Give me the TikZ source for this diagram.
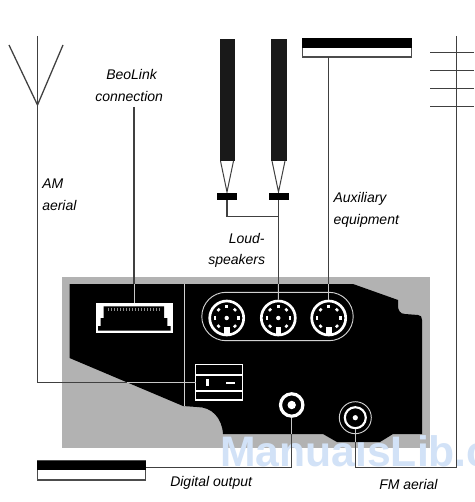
\documentclass[tikz,border=0pt]{standalone}
\usepackage{fontspec}
\setmainfont{Liberation Sans}
\tikzset{
    wire/.style={draw=black!75, line width=0.95pt},
    panelwire/.style={draw=black!22, line width=0.75pt},
    label/.style={inner sep=0pt, anchor=base west, font=\itshape\fontsize{10.5}{12}\selectfont, text=black},
    ringline/.style={draw=white, line width=2pt},
    thinline/.style={draw=black!18, line width=0.7pt},
    pin/.style={draw=white, line width=2.3pt},
    socketbox/.style={draw=black!70, line width=0.8pt, fill=white}
}
\definecolor{panelgray}{RGB}{178,178,178}
\definecolor{markblue}{RGB}{210,226,247}
\begin{document}
\begin{tikzpicture}[x={(0.75pt,0pt)}, y={(0pt,-0.75pt)}]
    \useasboundingbox (0, 0) rectangle (474, 502);
    \fill[white] (0, 0) rectangle (474, 502);

    % rear panel
    \fill[panelgray] (62, 277) rectangle (430, 448);
    \node[inner sep=0pt, anchor=base west, font=\bfseries\fontsize{32}{36}\selectfont, text=markblue] (mark) at (220, 466) {ManualsLib.c};
    \fill[black] (69.5, 284) -- (353, 284) -- (398, 300) -- (398, 306) .. controls (398, 310) and (400, 314) .. (405, 314)
        -- (418, 315) .. controls (421, 315) and (422, 317) .. (422, 320) -- (422, 434) -- (393, 434) -- (380, 442) -- (337, 442) -- (323, 434)
        -- (223, 434) .. controls (222, 418) and (212, 407) .. (197, 407) -- (183, 406) -- (69.5, 358) -- cycle;
    \draw[thinline] (184, 284) -- (184, 406);

    % aerial and equipment symbols
    \coordinate (amfoot) at (37.5, 105);
    \coordinate (amtop) at (37.5, 36);
    \coordinate (amcorner) at (37.5, 382.7);
    \coordinate (amedge) at (127, 382.7);
    \draw[wire] (9, 45) -- (amfoot) -- (63, 45);
    \draw[wire] (amtop) -- (amcorner) -- (amedge);
    \coordinate (fmtop) at (456.7, 36);
    \coordinate (fmcorner) at (456.7, 467.7);
    \draw[wire] (fmtop) -- (fmcorner);
    \foreach \y in {52.7, 70.7, 88.7, 106.7}
        \draw[wire] (430, \y) -- (474, \y);

    % loudspeakers
    \foreach \x/\w [count=\i] in {227/7.5, 278.5/8} {
        \fill[black!90] (\x-\w, 39) rectangle (\x+\w, 161);
        \draw[wire, line width=0.75pt] (\x-6.5, 161) -- (\x, 192) -- (\x+6.5, 161);
        \fill[black] (\x-10, 193) rectangle (\x+10, 200);
        \coordinate (foot\i) at (\x, 200);
    }
    \coordinate (footjoin) at (278.5, 216.7);
    \coordinate (foot1down) at (227, 216.7);
    \draw[wire] (foot1) -- (foot1down) -- (footjoin);

    % auxiliary box and digital box
    \draw[socketbox] (302.3, 38.5) rectangle (411.7, 57);
    \fill[black] (302.3, 38.5) rectangle (411.7, 48);
    \coordinate (auxout) at (328.7, 57);
    \draw[socketbox] (37.3, 460.7) rectangle (145.5, 480);
    \fill[black] (37.3, 460.7) rectangle (145.5, 470.3);
    \coordinate (digbox) at (145.5, 467.7);

    % link socket
    \fill[white] (95.7, 303) rectangle (172.7, 333);
    \fill[black] (103.7, 306.3) -- (164, 306.3) -- (164, 318) -- (167.3, 318) -- (167.3, 326) -- (170.7, 326) -- (170.7, 330.7)
        -- (98, 330.7) -- (98, 326) -- (100.7, 326) -- (100.7, 318) -- (103.7, 318) -- cycle;
    \foreach \x in {108, 111, ..., 160}
        \draw[black!45, line width=0.6pt] (\x, 307.5) -- (\x, 310.5);
    \coordinate (linktop) at (134, 303);
    \coordinate (linkend) at (134, 107);
    \coordinate (linkedge) at (134, 284);
    \draw[wire] (linkend) -- (linkedge);
    \draw[panelwire] (linkedge) -- (linktop);

    % din sockets
    \draw[thinline] (226, 292.3) -- (329, 292.3) arc[start angle=90, end angle=-90, x radius=24.2, y radius=-24.2] -- (226, 340.7) arc[start angle=-90, end angle=-270, x radius=24.2, y radius=-24.2] -- cycle;
    \foreach \name/\x in {left/226.7, mid/278.3, right/328.7} {
        \draw[ringline] (\x, 318) circle[radius=17];
        \fill[white] (\x-2.8, 326.5) rectangle (\x+2.8, 334);
        \foreach \a in {0, 45, 90, 135, 180, 225, 315}
            \draw[pin] ({\x+10.3*cos(\a)}, {318-10.3*sin(\a)}) -- ({\x+12.8*cos(\a)}, {318-12.8*sin(\a)});
        \coordinate (din\name) at (\x, 299.5);
    }
    \foreach \x in {226.7, 278.3}
        \fill[white] (\x, 318) circle[radius=2.2];

    \coordinate (spkedge) at (278.5, 284);
    \coordinate (auxedge) at (328.7, 284);
    \draw[wire] (foot2) -- (spkedge);
    \draw[panelwire] (spkedge) -- (dinmid);
    \draw[wire] (auxout) -- (auxedge);
    \draw[panelwire] (auxedge) -- (dinright);

    % mains style socket
    \draw[draw=white, line width=0.8pt] (195.7, 364.3) rectangle (242.7, 400);
    \draw[draw=white, line width=0.8pt] (195.7, 375) -- (242.7, 375);
    \draw[draw=white, line width=0.8pt] (195.7, 391) -- (242.7, 391);
    \fill[white] (205.7, 379) rectangle (209, 386);
    \fill[white] (226, 381.7) rectangle (235, 384);
    \coordinate (acleft) at (195.7, 382.7);
    \draw[panelwire] (amedge) -- (acleft);

    % digital and fm sockets
    \draw[draw=white, line width=2.4pt] (291.7, 405) circle[radius=11.2];
    \fill[white] (291.7, 405) circle[radius=4.2];
    \coordinate (digbottom) at (291.7, 417.5);
    \coordinate (digedge) at (291.7, 434);
    \coordinate (digcorner) at (291.7, 467.7);
    \draw[panelwire] (digbottom) -- (digedge);
    \draw[wire] (digedge) -- (digcorner) -- (digbox);

    \draw[thinline] (355.3, 417.7) circle[radius=16];
    \draw[draw=white, line width=1.6pt] (355.3, 417.7) circle[radius=10.5];
    \fill[white] (355.3, 417.7) circle[radius=2.6];
    \coordinate (fmbottom) at (355.3, 428.5);
    \coordinate (fmedge) at (355.3, 442);
    \coordinate (fmjoin) at (355.3, 467.7);
    \draw[panelwire] (fmbottom) -- (fmedge);
    \draw[wire] (fmedge) -- (fmjoin) -- (fmcorner);

    % labels
    \node[label] (beolink) at (106, 80) {BeoLink};
    \node[label] (connection) at (95, 101.7) {connection};
    \node[label] (am) at (42, 188) {AM};
    \node[label] (aerial) at (42, 210) {aerial};
    \node[label] (auxiliary) at (333.3, 202) {Auxiliary};
    \node[label] (equipment) at (333.3, 224) {equipment};
    \node[label] (loud) at (228.5, 243) {Loud-};
    \node[label] (speakers) at (208, 264) {speakers};
    \node[label] (digital) at (170, 486.7) {Digital output};
    \node[label] (fmaerial) at (379, 489) {FM aerial};
\end{tikzpicture}
\end{document}
